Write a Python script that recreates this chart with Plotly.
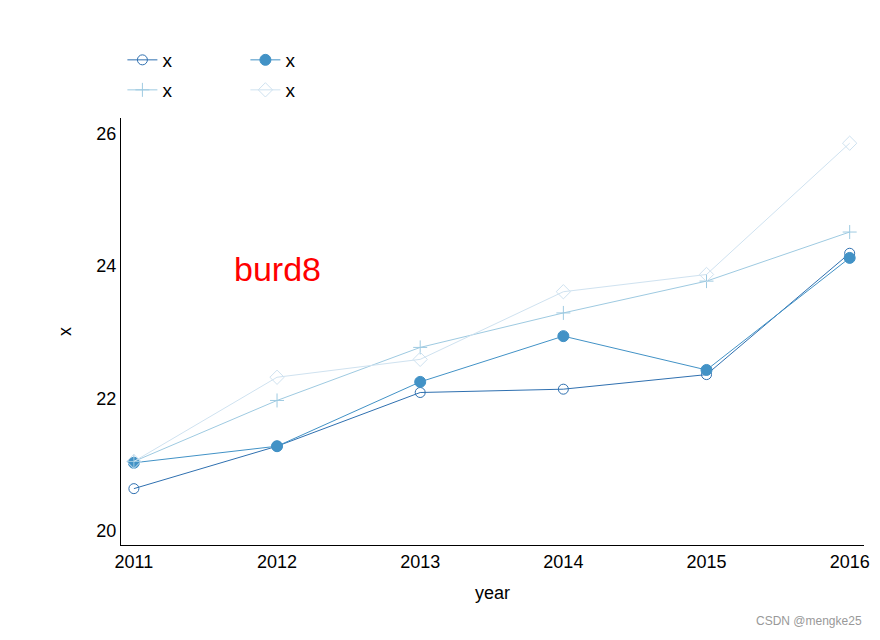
import plotly.graph_objects as go

years = [2011, 2012, 2013, 2014, 2015, 2016]
s1 = [20.64, 21.28, 22.09, 22.14, 22.36, 24.19]
s2 = [21.03, 21.28, 22.25, 22.94, 22.43, 24.12]
s3 = [21.05, 21.97, 22.77, 23.29, 23.77, 24.51]
s4 = [21.05, 22.32, 22.59, 23.61, 23.87, 25.85]
names = ["x", "x", "x", "x"]

fig = go.Figure()
specs = [
    (s1, "#2f70b0", "circle-open", 10, "legend"),
    (s2, "#4292c6", "circle", 11, "legend"),
    (s3, "#9ecae1", "cross-thin-open", 10, "legend2"),
    (s4, "#cfe2f0", "diamond-open", 11, "legend2"),
]
for (vals, col, sym, sz, lg), nm in zip(specs, names):
    fig.add_trace(go.Scatter(x=years, y=vals, name=nm, mode="lines+markers", legend=lg,
                             line=dict(color=col, width=1),
                             marker=dict(symbol=sym, size=sz, color=col, line=dict(color=col, width=1))))

fig.add_annotation(x=2012.0, y=23.95, text="burd8", showarrow=False,
                   font=dict(color="red", size=34))

legcommon = dict(orientation="h", xref="container", yref="container", xanchor="left",
                 yanchor="middle", entrywidth=78, entrywidthmode="pixels",
                 font=dict(size=19), bgcolor="rgba(0,0,0,0)")
fig.update_layout(
    width=880, height=640, paper_bgcolor="white", plot_bgcolor="white",
    margin=dict(l=113, r=24, t=110, b=103, autoexpand=False),
    font=dict(family="Liberation Sans, Arial", size=18, color="black"),
    legend=dict(x=0.13, y=1 - 52 / 640, **legcommon),
    legend2=dict(x=0.13, y=1 - 82 / 640, **legcommon),
    xaxis=dict(range=[2010.91, 2016.1], tickvals=years, showgrid=False, zeroline=False,
               showline=True, linecolor="black", linewidth=1, ticks="", automargin=False,
               title=dict(text="year", font=dict(size=18), standoff=15)),
    yaxis=dict(range=[19.79, 26.23], tickvals=[20, 22, 24, 26], showgrid=False, zeroline=False,
               showline=True, linecolor="black", linewidth=1, ticks="", automargin=False,
               title=dict(text="x", font=dict(size=18), standoff=20)),
)
fig.add_annotation(x=1, y=-0.2, xref="paper", yref="paper", text="CSDN @mengke25",
                   showarrow=False, xanchor="right", font=dict(size=12, color="#999"))
fig.write_html("out.html")
